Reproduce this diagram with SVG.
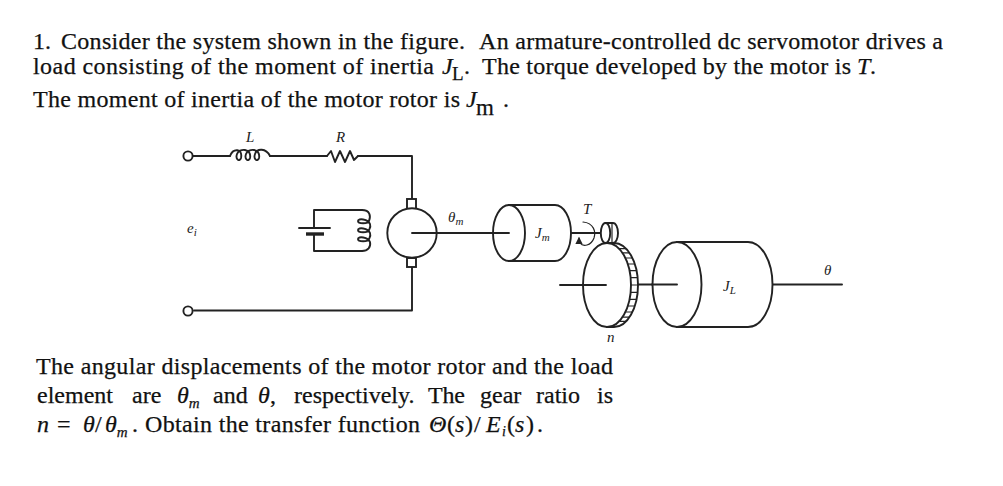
<svg xmlns="http://www.w3.org/2000/svg" width="1003" height="486" viewBox="0 0 1003 486">
<style>
.t{font-family:"Liberation Serif","Times New Roman",serif;font-size:24px;fill:#111;stroke:#111;stroke-width:.25}
.i{font-style:italic}
.s{font-style:italic}
.lb{font-family:"Liberation Serif","Times New Roman",serif;font-size:15px;font-style:italic;fill:#222}
.sub{font-size:11px}
.w{fill:none;stroke:#222;stroke-width:1.9;stroke-linecap:round;stroke-linejoin:round}
.f{fill:#fff;stroke:#222;stroke-width:1.9}
.th{stroke:#222;stroke-width:1.2;fill:none}
</style>
<defs>
<marker id="ah" markerWidth="7" markerHeight="7" refX="5" refY="3" orient="auto"><path d="M0 0L6 3L0 6Z" fill="#222"/></marker>
</defs>
<rect width="1003" height="486" fill="#fff"/>

<g id="text-top">
<text class="t" x="33" y="49">1.</text>
<text class="t" x="61" y="49" textLength="404" lengthAdjust="spacing">Consider the system shown in the figure.</text>
<text class="t" x="479" y="49" textLength="464" lengthAdjust="spacing">An armature-controlled dc servomotor drives a</text>
<text class="t" x="33" y="74" textLength="401" lengthAdjust="spacing">load consisting of the moment of inertia</text>
<text class="t i" x="442" y="74">J</text><text class="t" x="452" y="80" style="font-size:19px">L</text>
<text class="t" x="464" y="74">.</text>
<text class="t" x="482" y="74" textLength="369" lengthAdjust="spacing">The torque developed by the motor is</text>
<text class="t i" x="857" y="74">T</text><text class="t" x="870" y="74">.</text>
<text class="t" x="33" y="107" textLength="427" lengthAdjust="spacing">The moment of inertia of the motor rotor is</text>
<text class="t i" x="466" y="107">J</text><text class="t" x="476" y="115" style="font-size:23px">m</text>
<text class="t" x="503" y="107">.</text>
</g>

<g id="connectors">
<path class="w" d="M193 156H230M270 156H327M358 156H412V199"/>
<path class="w" d="M412 267V310.5H194"/>
<path class="w" d="M412 233H509M571 233H601"/>
<path class="w" d="M560 285H606M638 284.5H677"/>
<path class="w" d="M772 284.5H842"/>
<path class="w" d="M314 228V210H362M314 234V251H362"/>
</g>

<g id="terminal-top"><circle class="f" cx="188" cy="156" r="4.6"/></g>
<g id="terminal-bottom"><circle class="f" cx="188" cy="311" r="4.6"/></g>
<g id="inductor"><path class="w" d="M230 156C233 148 243 148 241 158C240 162 235 160 237 154C239 148 252 148 250 158C249 162 244 160 246 154C248 148 261 148 259 158C258 162 253 160 255 154C257 148 266 148 270 156"/></g>
<g id="resistor"><path class="w" d="M327 156L331 151L335 162L340 151L345 162L350 151L354 160L358 156"/></g>
<g id="motor">
<rect class="f" x="407" y="199" width="9" height="10"/>
<rect class="f" x="407" y="258" width="9" height="9"/>
<circle class="f" cx="412" cy="233" r="24.7"/>
<path class="w" d="M412 233H440"/>
</g>
<g id="field">
<path class="w" d="M299 228H330"/>
<path d="M306 234H324" stroke="#222" stroke-width="3.4" fill="none"/>
<path class="w" d="M362 210C370 210 371 216 369 221C368 224 358 224 358 221C358 218 368 219 370 224C371 227 370 228 369 230C368 233 358 233 358 230C358 227 368 228 370 233C371 236 370 237 369 239C368 242 358 242 358 239C358 236 368 237 370 242C371 247 368 251 362 251"/>
</g>
<g id="rotor-cylinder">
<path class="f" d="M509 205H555A16 28 0 0 1 555 261H509Z"/>
<ellipse class="f" cx="509" cy="233" rx="16" ry="28"/>
<path class="w" d="M493 233H509"/>
</g>
<g id="torque-arrow">
<path class="w" style="stroke-width:1.2" d="M583 222C594 223 596 232 594 238C591 246 583 247 580 243C579 241 579 240 579 238" marker-end="url(#ah)"/>
</g>
<g id="large-gear">
<path class="f" d="M607 243H614A24 42 0 0 1 614 327H607Z"/>
<path class="th" d="M619 248.600H626M622.400 252.800H629.400M625.400 258H632.400M627.800 264H634.800M629.600 270.600H636.600M630.600 277.700H637.600M631 285H638M630.600 292.300H637.600M629.600 299.400H636.600M627.800 306H634.800M625.400 312H632.400M622.400 317.200H629.400M619 321.400H626"/>
<ellipse class="f" cx="607" cy="285" rx="24" ry="42"/>
<path class="w" d="M583 285H606"/>
</g>
<g id="small-gear">
<path class="f" d="M605.500 223H613A5 10 0 0 1 613 243H605.500Z"/>
<path class="th" d="M612 223.500V242.500"/>
<ellipse class="f" cx="605.500" cy="233" rx="4.700" ry="10"/>
</g>
<g id="load-cylinder">
<path class="f" d="M677 242H748A24.500 42.500 0 0 1 748 327H677Z"/>
<ellipse class="f" cx="677" cy="284.500" rx="24.500" ry="42.500"/>
<path class="w" d="M652 284.500H677"/>
</g>

<g id="labels">
<text class="lb" x="246" y="142">L</text>
<text class="lb" x="336" y="142">R</text>
<text class="lb" x="187" y="233">e<tspan class="sub" dy="3">i</tspan></text>
<text class="lb" x="448" y="222">θ<tspan class="sub" dy="3">m</tspan></text>
<text class="lb" x="583" y="214">T</text>
<text class="lb" x="535" y="238">J<tspan class="sub" dy="3">m</tspan></text>
<text class="lb" x="607" y="342">n</text>
<text class="lb" x="723" y="291">J<tspan class="sub" dy="3">L</tspan></text>
<text class="lb" x="824" y="275">θ</text>
</g>

<g id="text-bottom">
<text class="t" x="36" y="374" textLength="577" lengthAdjust="spacing">The angular displacements of the motor rotor and the load</text>
<text class="t" x="37" y="403">element</text>
<text class="t" x="132" y="403">are</text>
<text class="t i" x="177" y="403">θ<tspan dy="5" style="font-size:15px">m</tspan></text>
<text class="t" x="213" y="403">and</text>
<text class="t i" x="258" y="403">θ</text><text class="t" x="270" y="403">,</text>
<text class="t" x="294" y="403">respectively.</text>
<text class="t" x="428" y="403" textLength="37">The</text>
<text class="t" x="480" y="403">gear</text>
<text class="t" x="536" y="403">ratio</text>
<text class="t" x="597" y="403">is</text>
<text class="t i" x="37" y="432">n</text>
<text class="t" x="57" y="432">=</text>
<text class="t i" x="83" y="432">θ</text><text class="t" x="95" y="432">/</text><text class="t i" x="105" y="432">θ<tspan dy="5" style="font-size:15px">m</tspan></text>
<text class="t" x="132" y="432">.</text>
<text class="t" x="145" y="432" textLength="275" lengthAdjust="spacing">Obtain the transfer function</text>
<text class="t i" x="429" y="432">Θ</text><text class="t" x="447" y="432">(</text><text class="t i" x="455" y="432">s</text><text class="t" x="465" y="432">)</text><text class="t" x="474" y="432">/</text><text class="t i" x="486" y="432">E</text><text class="t i" x="502" y="436" style="font-size:14px">i</text><text class="t" x="507" y="432">(</text><text class="t i" x="515" y="432">s</text><text class="t" x="526" y="432">)</text><text class="t" x="537" y="432">.</text>
</g>
</svg>
